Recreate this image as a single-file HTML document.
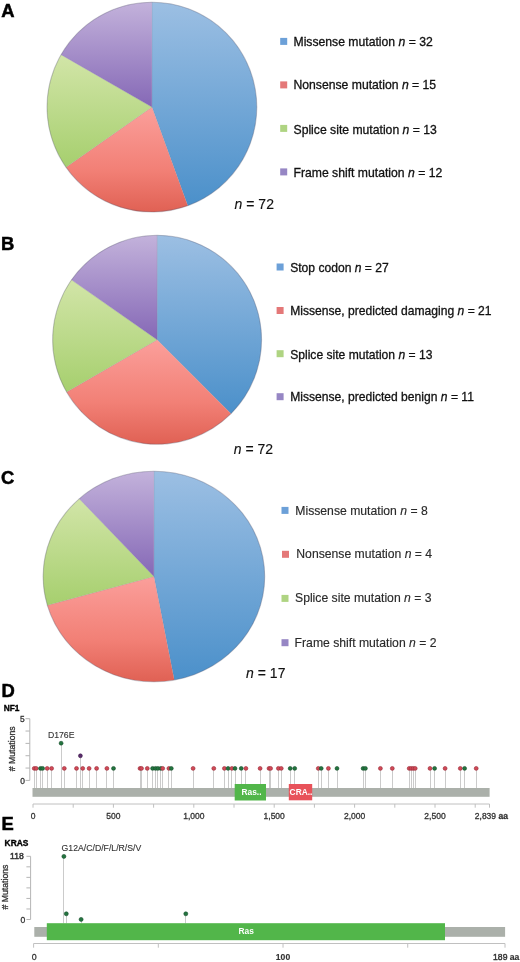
<!DOCTYPE html><html><head><meta charset="utf-8"><style>html,body{margin:0;padding:0;background:#fff;width:520px;height:962px;overflow:hidden}svg{display:block;filter:blur(0.35px)}text{font-family:"Liberation Sans",Arial,sans-serif}</style></head><body>
<svg width="520" height="962" viewBox="0 0 520 962">
<defs>
<linearGradient id="gbl" x1="0" y1="0" x2="0" y2="1"><stop offset="0" stop-color="#9cbfe3"/><stop offset="1" stop-color="#4b90ca"/></linearGradient>
<linearGradient id="grd" x1="0" y1="0" x2="0" y2="1"><stop offset="0" stop-color="#fb9f9b"/><stop offset="0.6" stop-color="#f28076"/><stop offset="1" stop-color="#e06154"/></linearGradient>
<linearGradient id="ggr" x1="0" y1="0" x2="0" y2="1"><stop offset="0" stop-color="#d2e5a8"/><stop offset="1" stop-color="#a6cf6e"/></linearGradient>
<linearGradient id="gpu" x1="0" y1="0" x2="0" y2="1"><stop offset="0" stop-color="#c3b2db"/><stop offset="1" stop-color="#8568b6"/></linearGradient>
</defs>
<text x="1.2" y="17.0" font-size="18.4" font-weight="bold" fill="#000" stroke="#000" stroke-width="0.5">A</text>
<text x="1.0" y="250.3" font-size="18.4" font-weight="bold" fill="#000" stroke="#000" stroke-width="0.5">B</text>
<text x="1.0" y="484.4" font-size="18.4" font-weight="bold" fill="#000" stroke="#000" stroke-width="0.5">C</text>
<text x="1.5" y="697.1" font-size="18.4" font-weight="bold" fill="#000" stroke="#000" stroke-width="0.5">D</text>
<text x="1.4" y="829.9" font-size="18.4" font-weight="bold" fill="#000" stroke="#000" stroke-width="0.5">E</text>
<path d="M151.90,107.10 L151.90,2.20 A104.90,104.90 0 0 1 187.78,205.67 Z" fill="url(#gbl)" stroke="rgba(120,120,140,0.3)" stroke-width="0.5"/>
<path d="M151.90,107.10 L187.78,205.67 A104.90,104.90 0 0 1 65.97,167.27 Z" fill="url(#grd)" stroke="rgba(120,120,140,0.3)" stroke-width="0.5"/>
<path d="M151.90,107.10 L65.97,167.27 A104.90,104.90 0 0 1 61.05,54.65 Z" fill="url(#ggr)" stroke="rgba(120,120,140,0.3)" stroke-width="0.5"/>
<path d="M151.90,107.10 L61.05,54.65 A104.90,104.90 0 0 1 151.90,2.20 Z" fill="url(#gpu)" stroke="rgba(120,120,140,0.3)" stroke-width="0.5"/>
<ellipse cx="151.9" cy="107.1" rx="104.9" ry="104.9" fill="none" stroke="rgba(70,70,90,0.22)" stroke-width="1.1"/>
<path d="M157.10,339.80 L157.10,235.30 A104.50,104.50 0 0 1 230.99,413.69 Z" fill="url(#gbl)" stroke="rgba(120,120,140,0.3)" stroke-width="0.5"/>
<path d="M157.10,339.80 L230.99,413.69 A104.50,104.50 0 0 1 66.60,392.05 Z" fill="url(#grd)" stroke="rgba(120,120,140,0.3)" stroke-width="0.5"/>
<path d="M157.10,339.80 L66.60,392.05 A104.50,104.50 0 0 1 71.50,279.86 Z" fill="url(#ggr)" stroke="rgba(120,120,140,0.3)" stroke-width="0.5"/>
<path d="M157.10,339.80 L71.50,279.86 A104.50,104.50 0 0 1 157.10,235.30 Z" fill="url(#gpu)" stroke="rgba(120,120,140,0.3)" stroke-width="0.5"/>
<ellipse cx="157.1" cy="339.8" rx="104.5" ry="104.5" fill="none" stroke="rgba(70,70,90,0.22)" stroke-width="1.1"/>
<path d="M153.90,576.50 L153.90,471.20 A110.80,105.30 0 0 1 174.26,680.01 Z" fill="url(#gbl)" stroke="rgba(120,120,140,0.3)" stroke-width="0.5"/>
<path d="M153.90,576.50 L174.26,680.01 A110.80,105.30 0 0 1 47.33,605.32 Z" fill="url(#grd)" stroke="rgba(120,120,140,0.3)" stroke-width="0.5"/>
<path d="M153.90,576.50 L47.33,605.32 A110.80,105.30 0 0 1 79.25,498.68 Z" fill="url(#ggr)" stroke="rgba(120,120,140,0.3)" stroke-width="0.5"/>
<path d="M153.90,576.50 L79.25,498.68 A110.80,105.30 0 0 1 153.90,471.20 Z" fill="url(#gpu)" stroke="rgba(120,120,140,0.3)" stroke-width="0.5"/>
<ellipse cx="153.9" cy="576.5" rx="110.8" ry="105.3" fill="none" stroke="rgba(70,70,90,0.22)" stroke-width="1.1"/>
<rect x="280.2" y="37.90" width="7.0" height="7.0" fill="#6ca0d8"/>
<text x="293.5" y="46.4" font-size="12.2" fill="#111" stroke="#111" stroke-width="0.3">Missense mutation <tspan font-style="italic">n</tspan> = 32</text>
<rect x="280.2" y="81.40" width="7.0" height="7.0" fill="#e47878"/>
<text x="293.5" y="89.4" font-size="12.2" fill="#111" stroke="#111" stroke-width="0.3">Nonsense mutation <tspan font-style="italic">n</tspan> = 15</text>
<rect x="280.2" y="124.90" width="7.0" height="7.0" fill="#afd482"/>
<text x="293.5" y="133.6" font-size="12.2" fill="#111" stroke="#111" stroke-width="0.3">Splice site mutation <tspan font-style="italic">n</tspan> = 13</text>
<rect x="280.2" y="168.40" width="7.0" height="7.0" fill="#9686c4"/>
<text x="293.5" y="177" font-size="12.2" fill="#111" stroke="#111" stroke-width="0.3">Frame shift mutation <tspan font-style="italic">n</tspan> = 12</text>
<rect x="276.6" y="263.50" width="7.0" height="7.0" fill="#6ca0d8"/>
<text x="290.2" y="272.3" font-size="12.1" fill="#111" stroke="#111" stroke-width="0.3">Stop codon <tspan font-style="italic">n</tspan> = 27</text>
<rect x="276.6" y="307.00" width="7.0" height="7.0" fill="#e47878"/>
<text x="290.2" y="315.2" font-size="12.1" fill="#111" stroke="#111" stroke-width="0.3">Missense, predicted damaging <tspan font-style="italic">n</tspan> = 21</text>
<rect x="276.6" y="350.20" width="7.0" height="7.0" fill="#afd482"/>
<text x="290.2" y="358.7" font-size="12.1" fill="#111" stroke="#111" stroke-width="0.3">Splice site mutation <tspan font-style="italic">n</tspan> = 13</text>
<rect x="276.6" y="393.20" width="7.0" height="7.0" fill="#9686c4"/>
<text x="290.2" y="401.2" font-size="12.1" fill="#111" stroke="#111" stroke-width="0.3">Missense, predicted benign <tspan font-style="italic">n</tspan> = 11</text>
<rect x="281.5" y="506.90" width="7.0" height="7.0" fill="#6ca0d8"/>
<text x="295.3" y="515.4" font-size="12.2" fill="#2a2a2a" stroke="#2a2a2a" stroke-width="0.15">Missense mutation <tspan font-style="italic">n</tspan> = 8</text>
<rect x="282.0" y="550.80" width="7.0" height="7.0" fill="#e47878"/>
<text x="296.3" y="558.2" font-size="12.2" fill="#2a2a2a" stroke="#2a2a2a" stroke-width="0.15">Nonsense mutation <tspan font-style="italic">n</tspan> = 4</text>
<rect x="281.5" y="594.90" width="7.0" height="7.0" fill="#afd482"/>
<text x="295.0" y="602.4" font-size="12.2" fill="#2a2a2a" stroke="#2a2a2a" stroke-width="0.15">Splice site mutation <tspan font-style="italic">n</tspan> = 3</text>
<rect x="281.5" y="639.20" width="7.0" height="7.0" fill="#9686c4"/>
<text x="294.6" y="647.2" font-size="12.2" fill="#2a2a2a" stroke="#2a2a2a" stroke-width="0.15">Frame shift mutation <tspan font-style="italic">n</tspan> = 2</text>
<text x="234.6" y="208.5" font-size="14" fill="#111" stroke="#111" stroke-width="0.15"><tspan font-style="italic">n</tspan> = 72</text>
<text x="233.8" y="453.8" font-size="14" fill="#111" stroke="#111" stroke-width="0.15"><tspan font-style="italic">n</tspan> = 72</text>
<text x="246.1" y="677.5" font-size="14" fill="#111" stroke="#111" stroke-width="0.15"><tspan font-style="italic">n</tspan> = 17</text>
<text x="3.8" y="710.6" font-size="8.3" font-weight="bold" fill="#000" stroke="#000" stroke-width="0.35">NF1</text>
<g stroke="#b5b5b5" stroke-width="1" fill="none">
<path d="M29.8,718.7 V780.4"/>
<path d="M25.5,718.70 H29.8"/>
<path d="M25.5,731.04 H29.8"/>
<path d="M25.5,743.38 H29.8"/>
<path d="M25.5,755.72 H29.8"/>
<path d="M25.5,768.06 H29.8"/>
<path d="M25.5,780.40 H29.8"/>
</g>
<text x="24.6" y="722.1" font-size="8.4" text-anchor="end" fill="#333" stroke="#333" stroke-width="0.3">5</text>
<text x="24.8" y="783.8" font-size="8.4" text-anchor="end" fill="#333" stroke="#333" stroke-width="0.3">0</text>
<text transform="translate(15.4,748.8) rotate(-90)" font-size="8.7" text-anchor="middle" fill="#333" stroke="#333" stroke-width="0.3"># Mutations</text>
<rect x="32.5" y="788" width="457.1" height="8.8" fill="#abb0aa"/>
<g stroke="#cbcbcb" stroke-width="1">
<path d="M34.50,768.40 V788"/>
<path d="M36.50,768.40 V788"/>
<path d="M40.50,768.40 V788"/>
<path d="M42.50,768.40 V788"/>
<path d="M47.50,768.40 V788"/>
<path d="M51.50,768.40 V788"/>
<path d="M64.50,768.40 V788"/>
<path d="M76.50,768.40 V788"/>
<path d="M82.50,768.40 V788"/>
<path d="M89.50,768.40 V788"/>
<path d="M96.50,768.40 V788"/>
<path d="M106.50,768.40 V788"/>
<path d="M113.50,768.40 V788"/>
<path d="M140.50,768.40 V788"/>
<path d="M141.50,768.40 V788"/>
<path d="M147.50,768.40 V788"/>
<path d="M152.50,768.40 V788"/>
<path d="M155.50,768.40 V788"/>
<path d="M157.50,768.40 V788"/>
<path d="M160.50,768.40 V788"/>
<path d="M162.50,768.40 V788"/>
<path d="M168.50,768.40 V788"/>
<path d="M171.50,768.40 V788"/>
<path d="M193.50,768.40 V788"/>
<path d="M213.50,768.40 V788"/>
<path d="M224.50,768.40 V788"/>
<path d="M228.50,768.40 V788"/>
<path d="M231.50,768.40 V788"/>
<path d="M235.50,768.40 V788"/>
<path d="M241.50,768.40 V788"/>
<path d="M245.50,768.40 V788"/>
<path d="M260.50,768.40 V788"/>
<path d="M269.50,768.40 V788"/>
<path d="M270.50,768.40 V788"/>
<path d="M278.50,768.40 V788"/>
<path d="M281.50,768.40 V788"/>
<path d="M290.50,768.40 V788"/>
<path d="M294.50,768.40 V788"/>
<path d="M318.50,768.40 V788"/>
<path d="M321.50,768.40 V788"/>
<path d="M328.50,768.40 V788"/>
<path d="M337.50,768.40 V788"/>
<path d="M363.50,768.40 V788"/>
<path d="M365.50,768.40 V788"/>
<path d="M380.50,768.40 V788"/>
<path d="M392.50,768.40 V788"/>
<path d="M409.50,768.40 V788"/>
<path d="M411.50,768.40 V788"/>
<path d="M413.50,768.40 V788"/>
<path d="M415.50,768.40 V788"/>
<path d="M430.50,768.40 V788"/>
<path d="M434.50,768.40 V788"/>
<path d="M445.50,768.40 V788"/>
<path d="M460.50,768.40 V788"/>
<path d="M464.50,768.40 V788"/>
<path d="M476.50,768.40 V788"/>
<path d="M61.50,743.20 V788"/>
<path d="M80.50,755.80 V788"/>
</g>
<circle cx="34.25" cy="768.40" r="1.95" fill="#d04a57" stroke="#982a38" stroke-width="0.6"/>
<circle cx="36.20" cy="768.40" r="1.95" fill="#d04a57" stroke="#982a38" stroke-width="0.6"/>
<circle cx="40.50" cy="768.40" r="1.95" fill="#23753f" stroke="#174d2b" stroke-width="0.6"/>
<circle cx="42.60" cy="768.40" r="1.95" fill="#23753f" stroke="#174d2b" stroke-width="0.6"/>
<circle cx="47.20" cy="768.40" r="1.95" fill="#d04a57" stroke="#982a38" stroke-width="0.6"/>
<circle cx="51.60" cy="768.40" r="1.95" fill="#d04a57" stroke="#982a38" stroke-width="0.6"/>
<circle cx="64.30" cy="768.40" r="1.95" fill="#d04a57" stroke="#982a38" stroke-width="0.6"/>
<circle cx="76.50" cy="768.40" r="1.95" fill="#d04a57" stroke="#982a38" stroke-width="0.6"/>
<circle cx="82.70" cy="768.40" r="1.95" fill="#d04a57" stroke="#982a38" stroke-width="0.6"/>
<circle cx="89.10" cy="768.40" r="1.95" fill="#d04a57" stroke="#982a38" stroke-width="0.6"/>
<circle cx="96.60" cy="768.40" r="1.95" fill="#d04a57" stroke="#982a38" stroke-width="0.6"/>
<circle cx="106.90" cy="768.40" r="1.95" fill="#d04a57" stroke="#982a38" stroke-width="0.6"/>
<circle cx="113.50" cy="768.40" r="1.95" fill="#23753f" stroke="#174d2b" stroke-width="0.6"/>
<circle cx="140.00" cy="768.40" r="1.95" fill="#d04a57" stroke="#982a38" stroke-width="0.6"/>
<circle cx="141.50" cy="768.40" r="1.95" fill="#d04a57" stroke="#982a38" stroke-width="0.6"/>
<circle cx="147.30" cy="768.40" r="1.95" fill="#d04a57" stroke="#982a38" stroke-width="0.6"/>
<circle cx="152.60" cy="768.40" r="1.95" fill="#23753f" stroke="#174d2b" stroke-width="0.6"/>
<circle cx="155.50" cy="768.40" r="1.95" fill="#23753f" stroke="#174d2b" stroke-width="0.6"/>
<circle cx="157.90" cy="768.40" r="1.95" fill="#23753f" stroke="#174d2b" stroke-width="0.6"/>
<circle cx="160.80" cy="768.40" r="1.95" fill="#23753f" stroke="#174d2b" stroke-width="0.6"/>
<circle cx="162.70" cy="768.40" r="1.95" fill="#d04a57" stroke="#982a38" stroke-width="0.6"/>
<circle cx="168.90" cy="768.40" r="1.95" fill="#d04a57" stroke="#982a38" stroke-width="0.6"/>
<circle cx="171.30" cy="768.40" r="1.95" fill="#23753f" stroke="#174d2b" stroke-width="0.6"/>
<circle cx="193.10" cy="768.40" r="1.95" fill="#d04a57" stroke="#982a38" stroke-width="0.6"/>
<circle cx="213.80" cy="768.40" r="1.95" fill="#d04a57" stroke="#982a38" stroke-width="0.6"/>
<circle cx="224.40" cy="768.40" r="1.95" fill="#d04a57" stroke="#982a38" stroke-width="0.6"/>
<circle cx="228.10" cy="768.40" r="1.95" fill="#23753f" stroke="#174d2b" stroke-width="0.6"/>
<circle cx="231.90" cy="768.40" r="1.95" fill="#d04a57" stroke="#982a38" stroke-width="0.6"/>
<circle cx="235.00" cy="768.40" r="1.95" fill="#23753f" stroke="#174d2b" stroke-width="0.6"/>
<circle cx="241.25" cy="768.40" r="1.95" fill="#23753f" stroke="#174d2b" stroke-width="0.6"/>
<circle cx="245.90" cy="768.40" r="1.95" fill="#d04a57" stroke="#982a38" stroke-width="0.6"/>
<circle cx="260.10" cy="768.40" r="1.95" fill="#d04a57" stroke="#982a38" stroke-width="0.6"/>
<circle cx="269.00" cy="768.40" r="1.95" fill="#d04a57" stroke="#982a38" stroke-width="0.6"/>
<circle cx="270.60" cy="768.40" r="1.95" fill="#d04a57" stroke="#982a38" stroke-width="0.6"/>
<circle cx="278.40" cy="768.40" r="1.95" fill="#d04a57" stroke="#982a38" stroke-width="0.6"/>
<circle cx="281.25" cy="768.40" r="1.95" fill="#d04a57" stroke="#982a38" stroke-width="0.6"/>
<circle cx="290.20" cy="768.40" r="1.95" fill="#23753f" stroke="#174d2b" stroke-width="0.6"/>
<circle cx="294.70" cy="768.40" r="1.95" fill="#23753f" stroke="#174d2b" stroke-width="0.6"/>
<circle cx="318.30" cy="768.40" r="1.95" fill="#d04a57" stroke="#982a38" stroke-width="0.6"/>
<circle cx="321.20" cy="768.40" r="1.95" fill="#23753f" stroke="#174d2b" stroke-width="0.6"/>
<circle cx="328.40" cy="768.40" r="1.95" fill="#d04a57" stroke="#982a38" stroke-width="0.6"/>
<circle cx="337.00" cy="768.40" r="1.95" fill="#23753f" stroke="#174d2b" stroke-width="0.6"/>
<circle cx="363.10" cy="768.40" r="1.95" fill="#23753f" stroke="#174d2b" stroke-width="0.6"/>
<circle cx="365.40" cy="768.40" r="1.95" fill="#23753f" stroke="#174d2b" stroke-width="0.6"/>
<circle cx="380.40" cy="768.40" r="1.95" fill="#d04a57" stroke="#982a38" stroke-width="0.6"/>
<circle cx="392.30" cy="768.40" r="1.95" fill="#d04a57" stroke="#982a38" stroke-width="0.6"/>
<circle cx="409.20" cy="768.40" r="1.95" fill="#d04a57" stroke="#982a38" stroke-width="0.6"/>
<circle cx="411.20" cy="768.40" r="1.95" fill="#d04a57" stroke="#982a38" stroke-width="0.6"/>
<circle cx="413.20" cy="768.40" r="1.95" fill="#d04a57" stroke="#982a38" stroke-width="0.6"/>
<circle cx="415.20" cy="768.40" r="1.95" fill="#d04a57" stroke="#982a38" stroke-width="0.6"/>
<circle cx="430.00" cy="768.40" r="1.95" fill="#d04a57" stroke="#982a38" stroke-width="0.6"/>
<circle cx="434.60" cy="768.40" r="1.95" fill="#23753f" stroke="#174d2b" stroke-width="0.6"/>
<circle cx="445.10" cy="768.40" r="1.95" fill="#d04a57" stroke="#982a38" stroke-width="0.6"/>
<circle cx="460.30" cy="768.40" r="1.95" fill="#d04a57" stroke="#982a38" stroke-width="0.6"/>
<circle cx="464.60" cy="768.40" r="1.95" fill="#23753f" stroke="#174d2b" stroke-width="0.6"/>
<circle cx="476.20" cy="768.40" r="1.95" fill="#d04a57" stroke="#982a38" stroke-width="0.6"/>
<circle cx="61.10" cy="743.20" r="1.95" fill="#23753f" stroke="#174d2b" stroke-width="0.6"/>
<circle cx="80.40" cy="755.80" r="1.95" fill="#5a2d6c" stroke="#3e1a4c" stroke-width="0.6"/>
<text x="61.2" y="737.8" font-size="8.7" text-anchor="middle" fill="#333" stroke="#333" stroke-width="0.12">D176E</text>
<rect x="234.7" y="784" width="31.3" height="16.5" fill="#52b64a"/>
<text x="241.5" y="795.2" font-size="8.4" font-weight="bold" fill="#fff">Ras..</text>
<rect x="288.8" y="784" width="23.4" height="16.3" fill="#e8525a"/>
<text x="289.6" y="795.2" font-size="8.4" font-weight="bold" fill="#fff">CRA..</text>
<g stroke="#c0c0c0" stroke-width="1" fill="none">
<path d="M33.0,804 H489.51"/>
<path d="M33.00,804 V807.7"/>
<path d="M73.20,804 V807.7"/>
<path d="M113.40,804 V807.7"/>
<path d="M153.60,804 V807.7"/>
<path d="M193.80,804 V807.7"/>
<path d="M234.00,804 V807.7"/>
<path d="M274.20,804 V807.7"/>
<path d="M314.40,804 V807.7"/>
<path d="M354.60,804 V807.7"/>
<path d="M394.80,804 V807.7"/>
<path d="M435.00,804 V807.7"/>
<path d="M475.20,804 V807.7"/>
<path d="M489.51,804 V807.7"/>
</g>
<text x="33.00" y="818.6" font-size="8.5" text-anchor="middle" fill="#333" stroke="#333" stroke-width="0.3">0</text>
<text x="113.40" y="818.6" font-size="8.5" text-anchor="middle" fill="#333" stroke="#333" stroke-width="0.3">500</text>
<text x="193.80" y="818.6" font-size="8.5" text-anchor="middle" fill="#333" stroke="#333" stroke-width="0.3">1,000</text>
<text x="274.20" y="818.6" font-size="8.5" text-anchor="middle" fill="#333" stroke="#333" stroke-width="0.3">1,500</text>
<text x="354.60" y="818.6" font-size="8.5" text-anchor="middle" fill="#333" stroke="#333" stroke-width="0.3">2,000</text>
<text x="435.00" y="818.6" font-size="8.5" text-anchor="middle" fill="#333" stroke="#333" stroke-width="0.3">2,500</text>
<text x="474.8" y="818.6" font-size="8.5" fill="#333" stroke="#333" stroke-width="0.3">2,839 <tspan font-weight="bold">aa</tspan></text>
<text x="4.6" y="846" font-size="8.4" font-weight="bold" fill="#000" stroke="#000" stroke-width="0.35">KRAS</text>
<g stroke="#b5b5b5" stroke-width="1" fill="none">
<path d="M30.6,856.3 V919.5"/>
<path d="M26.4,856.30 H30.6"/>
<path d="M26.4,866.83 H30.6"/>
<path d="M26.4,877.37 H30.6"/>
<path d="M26.4,887.90 H30.6"/>
<path d="M26.4,898.43 H30.6"/>
<path d="M26.4,908.97 H30.6"/>
<path d="M26.4,919.50 H30.6"/>
</g>
<text x="23.8" y="859.4" font-size="8.6" text-anchor="end" fill="#333" stroke="#333" stroke-width="0.45">118</text>
<text x="25.2" y="922.5" font-size="8.6" text-anchor="end" fill="#333" stroke="#333" stroke-width="0.3">0</text>
<text transform="translate(8.2,887) rotate(-90)" font-size="8.7" text-anchor="middle" fill="#333" stroke="#333" stroke-width="0.3"># Mutations</text>
<rect x="34.3" y="927" width="470.8" height="9.8" fill="#abb0aa"/>
<g stroke="#cbcbcb" stroke-width="1">
<path d="M63.50,856.40 V923.3"/>
<path d="M66.50,913.80 V923.3"/>
<path d="M81.50,919.40 V923.3"/>
<path d="M185.50,913.80 V923.3"/>
</g>
<rect x="46.8" y="923.2" width="398.2" height="17" fill="#52b64a"/>
<circle cx="63.90" cy="856.40" r="2.0" fill="#23753f" stroke="#184d2c" stroke-width="0.6"/>
<circle cx="66.30" cy="913.80" r="2.0" fill="#23753f" stroke="#184d2c" stroke-width="0.6"/>
<circle cx="81.10" cy="919.40" r="2.0" fill="#23753f" stroke="#184d2c" stroke-width="0.6"/>
<circle cx="185.80" cy="913.80" r="2.0" fill="#23753f" stroke="#184d2c" stroke-width="0.6"/>
<text x="61.6" y="850.6" font-size="8.7" fill="#333" stroke="#333" stroke-width="0.12">G12A/C/D/F/L/R/S/V</text>
<text x="246.2" y="934.2" font-size="8.4" font-weight="bold" text-anchor="middle" fill="#fff">Ras</text>
<g stroke="#c0c0c0" stroke-width="1" fill="none">
<path d="M33.6,943.5 H505"/>
<path d="M33.60,943.5 V947.7"/>
<path d="M158.31,943.5 V947.7"/>
<path d="M283.02,943.5 V947.7"/>
<path d="M407.73,943.5 V947.7"/>
<path d="M505.00,943.5 V947.7"/>
</g>
<text x="34.20" y="959.6" font-size="8.8" text-anchor="middle" fill="#333" stroke="#333" stroke-width="0.3">0</text>
<text x="283.02" y="959.6" font-size="8.6" font-weight="bold" text-anchor="middle" fill="#333" stroke="#333" stroke-width="0.15">100</text>
<text x="493.1" y="959.6" font-size="8.6" fill="#333" stroke="#333" stroke-width="0.4">189 <tspan font-weight="bold" stroke-width="0.2">aa</tspan></text>
</svg></body></html>
